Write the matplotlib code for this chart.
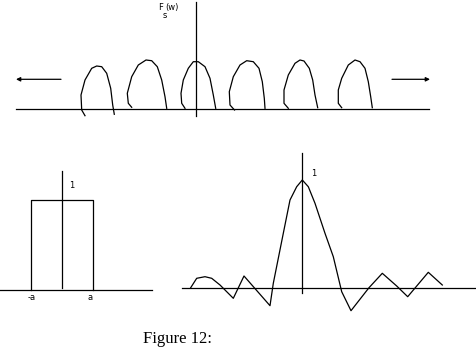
import matplotlib
matplotlib.use("Agg")
import matplotlib.pyplot as plt

# ---- data (pixel-space drawing coordinates) ----
# Top panel: baseline, axis, arrows
top_base_x = [16, 429]
top_base_y = [109, 109]
top_axis_x = [196, 196]
top_axis_y = [2, 116]

# six periodic humps (x, y)
hump1_x = [85, 81.7, 81, 85, 91.7, 96.7, 101.7, 106.7, 110.7, 112.7, 114.3]
hump1_y = [115.7, 110, 95, 80, 68.3, 66, 66.7, 73.3, 88.3, 105, 114.3]
hump2_x = [131.7, 128.3, 127.3, 131.7, 138.3, 146, 151.7, 157.3, 161.7, 165, 166.7]
hump2_y = [107.3, 103.3, 93.3, 76.7, 65, 60, 60.7, 66.7, 80, 96.7, 108.3]
hump3_x = [185, 181.7, 181, 183.3, 188.3, 193.3, 198.3, 205, 210, 213.3, 215.7]
hump3_y = [108.3, 103.3, 93.3, 80, 68.3, 61.7, 61.7, 66.7, 78.3, 95, 108.3]
hump4_x = [234.5, 230, 229.3, 233.3, 240, 246.7, 253.3, 259, 262.3, 264.3, 265]
hump4_y = [110, 105, 91.7, 76.7, 65, 60.7, 61.7, 68.3, 81.7, 98.3, 108.3]
hump5_x = [288.3, 284, 284, 288.3, 295, 300, 304, 309.3, 312.7, 315, 317.7]
hump5_y = [108.3, 103.3, 90, 75, 63.3, 60, 61, 68.3, 80, 95, 107.7]
hump6_x = [341.7, 338.3, 338.3, 341.7, 348.3, 355, 360, 365, 368.3, 370.7, 372.3]
hump6_y = [107.7, 103.3, 90, 78.3, 65, 60, 61.7, 68.3, 81.7, 96.7, 107.7]

arrow_left_x = [61, 16]
arrow_right_x = [392, 430]
arrow_y = 79.3

# Bottom-left panel: rectangle pulse
bl_base_x = [0, 152]
bl_base_y = [290, 290]
bl_axis_x = [62, 62]
bl_axis_y = [171, 288]
rect_x = [31.5, 31.5, 93.3, 93.3]
rect_y = [290, 199.5, 199.5, 290]

# Bottom-right panel: sinc-like curve
br_base_x = [182, 477]
br_base_y = [288, 288]
br_axis_x = [302.5, 302.5]
br_axis_y = [153, 293]
sinc_x = [190.7, 196.7, 205, 211.7, 220, 233.3, 244, 270, 273.3, 283.3, 290,
          296.7, 302.3, 308.3, 315, 325, 333.3, 341.7, 351, 369, 382.3,
          396.7, 407.7, 428.3, 442.3]
sinc_y = [287.7, 278.3, 276.7, 278.3, 285, 298.3, 276, 305.7, 283.3, 233.3, 200,
          186.7, 180, 186.7, 203.3, 233.3, 256.7, 291.7, 310.7, 287.7, 273.3,
          286, 296.7, 272.3, 285]

label_top = "F"
label_top_sub = "s"
label_top_rest = "(w)"
label_one = "1"
label_neg_a = "-a"
label_a = "a"
caption = "Figure 12:"

# ---- drawing ----
fig = plt.figure(figsize=(4.77, 3.51), dpi=100)
ax = fig.add_axes([0, 0, 1, 1])
ax.set_xlim(0, 477)
ax.set_ylim(351, 0)
ax.axis("off")

lw = 0.9
k = "black"

ax.plot(top_base_x, top_base_y, color=k, lw=lw)
ax.plot(top_axis_x, top_axis_y, color=k, lw=lw)
for hx, hy in [(hump1_x, hump1_y), (hump2_x, hump2_y), (hump3_x, hump3_y),
               (hump4_x, hump4_y), (hump5_x, hump5_y), (hump6_x, hump6_y)]:
    ax.plot(hx, hy, color=k, lw=lw)

ax.annotate("", xy=(arrow_left_x[1], arrow_y), xytext=(arrow_left_x[0], arrow_y),
            arrowprops=dict(arrowstyle="-|>", color=k, lw=lw,
                            mutation_scale=6, shrinkA=0, shrinkB=0))
ax.annotate("", xy=(arrow_right_x[1], arrow_y), xytext=(arrow_right_x[0], arrow_y),
            arrowprops=dict(arrowstyle="-|>", color=k, lw=lw,
                            mutation_scale=6, shrinkA=0, shrinkB=0))

ax.text(158, 3, label_top, fontsize=6, ha="left", va="top", family="DejaVu Sans")
ax.text(163, 11, label_top_sub, fontsize=6, ha="left", va="top", family="DejaVu Sans")
ax.text(165.5, 3, label_top_rest, fontsize=6, ha="left", va="top", family="DejaVu Sans")

ax.plot(bl_base_x, bl_base_y, color=k, lw=lw)
ax.plot(bl_axis_x, bl_axis_y, color=k, lw=lw)
ax.plot(rect_x, rect_y, color=k, lw=lw)
ax.text(72, 186, label_one, fontsize=6, ha="center", va="center")
ax.text(32, 297, label_neg_a, fontsize=6, ha="center", va="center")
ax.text(90.5, 297, label_a, fontsize=6, ha="center", va="center")

ax.plot(br_base_x, br_base_y, color=k, lw=lw)
ax.plot(br_axis_x, br_axis_y, color=k, lw=lw)
ax.plot(sinc_x, sinc_y, color=k, lw=lw)
ax.text(314, 174, label_one, fontsize=6, ha="center", va="center")

ax.text(143, 339, caption, fontsize=12, ha="left", va="center",
        family="Liberation Serif")

fig.savefig("out.png", dpi=100)
